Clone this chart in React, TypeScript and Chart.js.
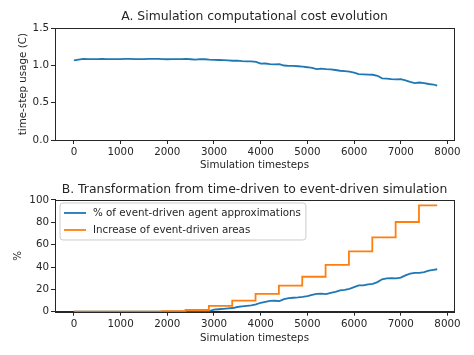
import React, { useEffect, useRef } from "react";
import { Chart, registerables } from "chart.js";

Chart.register(...registerables);

// ---------- Data ----------
const costSteps = [
  0, 100, 200, 300, 400, 500, 600, 700, 800, 900, 1000, 1100, 1200, 1300, 1400, 1500, 1600, 1700, 1800, 1900,
  2000, 2100, 2200, 2300, 2400, 2500, 2600, 2700, 2800, 2900, 3000, 3100, 3200, 3300, 3400, 3500, 3600, 3700, 3800, 3900,
  4000, 4100, 4200, 4300, 4400, 4500, 4600, 4700, 4800, 4900, 5000, 5100, 5200, 5300, 5400, 5500, 5600, 5700, 5800, 5900,
  6000, 6100, 6200, 6300, 6400, 6500, 6600, 6700, 6800, 6900, 7000, 7100, 7200, 7300, 7400, 7500, 7600, 7700, 7780,
];
const costValues = [
  1.07, 1.08, 1.088, 1.087, 1.086, 1.087, 1.089, 1.087, 1.086, 1.087, 1.086, 1.089, 1.088, 1.086, 1.085, 1.087, 1.088, 1.089, 1.088, 1.087,
  1.084, 1.086, 1.087, 1.085, 1.088, 1.084, 1.08, 1.087, 1.084, 1.079, 1.076, 1.074, 1.072, 1.069, 1.064, 1.066, 1.06, 1.056, 1.055, 1.05,
  1.025, 1.027, 1.02, 1.016, 1.018, 1.0, 0.995, 0.994, 0.99, 0.984, 0.977, 0.968, 0.952, 0.958, 0.952, 0.948, 0.94, 0.93, 0.925, 0.918,
  0.905, 0.885, 0.882, 0.878, 0.876, 0.862, 0.828, 0.824, 0.818, 0.815, 0.818, 0.8, 0.78, 0.765, 0.772, 0.765, 0.752, 0.745, 0.73,
];

const agentSteps = costSteps;
const agentPercent = [
  0, 0, 0, 0, 0, 0, 0, 0, 0, 0, 0, 0, 0, 0, 0, 0, 0, 0, 0, 0,
  0, 0, 0, 0, 0, 0, 0, 0, 0, 0.5, 1.8, 2.2, 2.6, 3.0, 3.3, 4.2, 4.8, 5.2, 5.6, 6.5,
  8.0, 8.8, 9.6, 9.8, 9.5, 11.2, 12.2, 12.5, 12.8, 13.2, 14.0, 15.0, 16.0, 16.2, 15.8, 16.8, 17.8, 19.0, 19.6, 20.5,
  22.0, 23.5, 23.6, 24.5, 25.0, 26.5, 29.0, 29.8, 30.0, 29.8, 30.5, 32.5, 34.0, 34.8, 34.8, 35.5, 36.8, 37.5, 38.0,
];

const areaSteps = [0, 1890, 2390, 2890, 3390, 3890, 4390, 4890, 5390, 5890, 6390, 6890, 7390, 7780];
const areaPercent = [0, 0.5, 1.5, 5.2, 10, 16, 23.3, 31.3, 42, 54, 66.6, 80.3, 95.2, 95.2];

const xTicks = [0, 1000, 2000, 3000, 4000, 5000, 6000, 7000, 8000];
const costTicks = [0, 0.5, 1.0, 1.5];
const percentTicks = [0, 20, 40, 60, 80, 100];

const titleA = "A. Simulation computational cost evolution";
const titleB = "B. Transformation from time-driven to event-driven simulation";
const xLabel = "Simulation timesteps";
const yLabelA = "time-step usage (C)";
const yLabelB = "%";
const legendLabels = ["% of event-driven agent approximations", "Increase of event-driven areas"];

// ---------- Styles ----------
const BLUE = "#1f77b4";
const ORANGE = "#ff7f0e";
const INK = "#262626";
const FONT = "'DejaVu Sans', sans-serif";
const TICK_SIZE = 10.3;
const TITLE_SIZE = 12.4;
const LINE_W = 1.8;

const framePlugin = {
  id: "frame",
  afterDraw(chart: any) {
    const { ctx, chartArea } = chart;
    ctx.save();
    ctx.strokeStyle = INK;
    ctx.lineWidth = 1;
    ctx.strokeRect(
      Math.round(chartArea.left) + 0.5,
      Math.round(chartArea.top) + 0.5,
      Math.round(chartArea.right) - Math.round(chartArea.left),
      Math.round(chartArea.bottom) - Math.round(chartArea.top)
    );
    ctx.restore();
  },
};

const legendPlugin = {
  id: "innerLegend",
  afterDraw(chart: any) {
    const { ctx, chartArea } = chart;
    const colors = [BLUE, ORANGE];
    ctx.save();
    ctx.font = `${TICK_SIZE}px ${FONT}`;
    const maxW = Math.max(...legendLabels.map((t) => ctx.measureText(t).width));
    const bx = chartArea.left + 5;
    const by = chartArea.top + 3;
    const textX = chartArea.left + 38;
    const bw = textX - bx + maxW + 5;
    const bh = 37;
    const r = 3;
    ctx.beginPath();
    ctx.moveTo(bx + r, by);
    ctx.lineTo(bx + bw - r, by);
    ctx.quadraticCurveTo(bx + bw, by, bx + bw, by + r);
    ctx.lineTo(bx + bw, by + bh - r);
    ctx.quadraticCurveTo(bx + bw, by + bh, bx + bw - r, by + bh);
    ctx.lineTo(bx + r, by + bh);
    ctx.quadraticCurveTo(bx, by + bh, bx, by + bh - r);
    ctx.lineTo(bx, by + r);
    ctx.quadraticCurveTo(bx, by, bx + r, by);
    ctx.closePath();
    ctx.fillStyle = "rgba(255,255,255,0.8)";
    ctx.fill();
    ctx.strokeStyle = "#cccccc";
    ctx.lineWidth = 1;
    ctx.stroke();
    legendLabels.forEach((label, i) => {
      const y = chartArea.top + 13 + i * 17;
      ctx.strokeStyle = colors[i];
      ctx.lineWidth = LINE_W;
      ctx.beginPath();
      ctx.moveTo(chartArea.left + 9, y);
      ctx.lineTo(chartArea.left + 31, y);
      ctx.stroke();
      ctx.fillStyle = INK;
      ctx.textBaseline = "middle";
      ctx.textAlign = "left";
      ctx.fillText(label, textX, y);
    });
    ctx.restore();
  },
};

function makeOptions(cfg: {
  title: string;
  titlePad: { top: number; bottom: number };
  yMin: number;
  yMax: number;
  yTicks: number[];
  yFmt: (v: number) => string;
  yLabel: string;
  yTitlePad: number;
  xAxisHeight: number;
  xTitlePad: number;
}) {
  return {
    responsive: false,
    animation: false as const,
    layout: { padding: { left: 0, right: 20, top: 0, bottom: 0 } },
    plugins: {
      legend: { display: false },
      tooltip: { enabled: false },
      title: {
        display: true,
        text: cfg.title,
        fullSize: false,
        color: INK,
        font: { family: FONT, size: TITLE_SIZE, weight: "normal" as const, lineHeight: 1.2 },
        padding: cfg.titlePad,
      },
    },
    elements: { point: { radius: 0 }, line: { tension: 0 } },
    scales: {
      x: {
        type: "linear" as const,
        min: -405,
        max: 8140,
        afterBuildTicks: (s: any) => {
          s.ticks = xTicks.map((v) => ({ value: v }));
        },
        afterFit: (s: any) => {
          s.height = cfg.xAxisHeight;
        },
        grid: { drawOnChartArea: false, drawTicks: true, tickLength: 4, color: INK },
        border: { display: true, color: INK },
        ticks: {
          color: INK,
          padding: 2,
          maxRotation: 0,
          autoSkip: false,
          font: { family: FONT, size: TICK_SIZE, lineHeight: 1.2 },
          callback: (v: any) => String(v),
        },
        title: {
          display: true,
          text: xLabel,
          color: INK,
          font: { family: FONT, size: TICK_SIZE, lineHeight: 1.2 },
          padding: { top: 0, bottom: cfg.xTitlePad },
        },
      },
      y: {
        type: "linear" as const,
        min: cfg.yMin,
        max: cfg.yMax,
        afterBuildTicks: (s: any) => {
          s.ticks = cfg.yTicks.map((v) => ({ value: v }));
        },
        afterFit: (s: any) => {
          s.width = 55;
        },
        grid: { drawOnChartArea: false, drawTicks: true, tickLength: 4, color: INK },
        border: { display: true, color: INK },
        ticks: {
          color: INK,
          padding: 2,
          autoSkip: false,
          font: { family: FONT, size: TICK_SIZE, lineHeight: 1.2 },
          callback: (v: any) => cfg.yFmt(Number(v)),
        },
        title: {
          display: true,
          text: cfg.yLabel,
          color: INK,
          font: { family: FONT, size: TICK_SIZE, lineHeight: 1.2 },
          padding: { top: cfg.yTitlePad, bottom: 0 },
        },
      },
    },
  };
}

export default function App() {
  const refA = useRef<HTMLCanvasElement>(null);
  const refB = useRef<HTMLCanvasElement>(null);

  useEffect(() => {
    const chartA = new Chart(refA.current!, {
      type: "line",
      data: {
        datasets: [
          {
            data: costSteps.map((x, i) => ({ x, y: costValues[i] })),
            borderColor: BLUE,
            borderWidth: LINE_W,
            pointRadius: 0,
            fill: false,
          },
        ],
      },
      options: makeOptions({
        title: titleA,
        titlePad: { top: 9.2, bottom: 4.2 },
        yMin: 0,
        yMax: 1.5,
        yTicks: costTicks,
        yFmt: (v) => v.toFixed(1),
        yLabel: yLabelA,
        yTitlePad: 16.8,
        xAxisHeight: 38,
        xTitlePad: 6.8,
      }) as any,
      plugins: [framePlugin],
    });

    const chartB = new Chart(refB.current!, {
      type: "line",
      data: {
        datasets: [
          {
            data: agentSteps.map((x, i) => ({ x, y: agentPercent[i] })),
            borderColor: BLUE,
            borderWidth: LINE_W,
            pointRadius: 0,
            fill: false,
            order: 2,
          },
          {
            data: areaSteps.map((x, i) => ({ x, y: areaPercent[i] })),
            borderColor: ORANGE,
            borderWidth: LINE_W,
            pointRadius: 0,
            fill: false,
            stepped: "before" as const,
            order: 1,
          },
        ],
      },
      options: makeOptions({
        title: titleB,
        titlePad: { top: 3.85, bottom: 3.25 },
        yMin: 0,
        yMax: 100,
        yTicks: percentTicks,
        yFmt: (v) => String(Math.round(v)),
        yLabel: yLabelB,
        yTitlePad: 11.8,
        xAxisHeight: 43.3,
        xTitlePad: 10.8,
      }) as any,
      plugins: [framePlugin, legendPlugin],
    });

    return () => {
      chartA.destroy();
      chartB.destroy();
    };
  }, []);

  return (
    <div style={{ position: "absolute", left: 0, top: 0, width: 474, height: 355, background: "#fff" }}>
      <canvas ref={refA} width={474} height={178} style={{ display: "block", width: 474, height: 178 }} />
      <canvas ref={refB} width={474} height={177} style={{ display: "block", width: 474, height: 177 }} />
    </div>
  );
}
